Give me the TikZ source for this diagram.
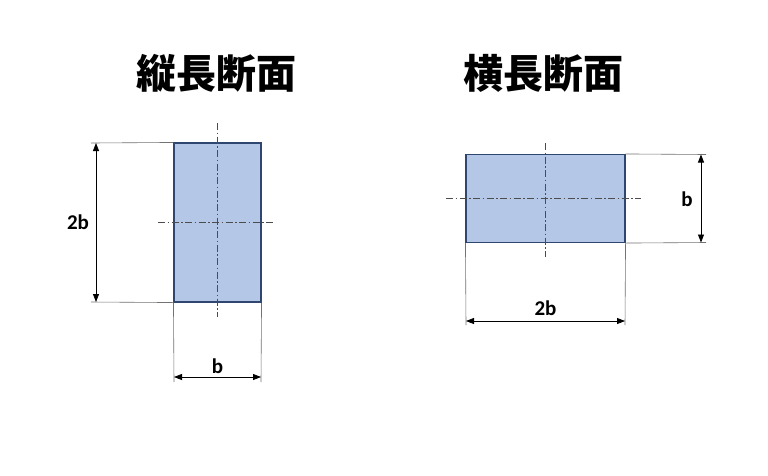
\documentclass[tikz,border=0pt]{standalone}
\usepackage{fontspec}
\setmainfont{Carlito}[BoldFont={Carlito Bold}]
\newfontfamily\jpfont{Noto Sans CJK JP}
\usetikzlibrary{arrows.meta}
\definecolor{secfill}{HTML}{B4C7E7}
\definecolor{secline}{HTML}{2F4670}
\tikzset{
  section/.style={draw=secline, line width=1.1pt, fill=secfill, inner sep=0pt},
  centerline/.style={draw=black!70, line width=0.6pt, dash pattern=on 7pt off 2.5pt on 1.5pt off 2.5pt},
  extline/.style={draw=black!55, line width=0.6pt},
  dimline/.style={draw=black, line width=0.8pt, {Triangle[length=8pt,width=6pt]}-{Triangle[length=8pt,width=6pt]}},
  dimlabel/.style={font=\bfseries\fontsize{21}{21}\selectfont},
  title/.style={font=\jpfont\bfseries\fontsize{40}{40}\selectfont}
}
\begin{document}
\begin{tikzpicture}[x=1pt,y=-1pt]
\useasboundingbox[fill=white] (0,0) rectangle (768,475);
% titles
\node[title] (tleft) at (216,73) {縦長断面};
\node[title] (tright) at (543,73) {横長断面};
% tall section
\node[section, minimum width=87pt, minimum height=159pt] (tall) at (217.5,222.5) {};
\draw[centerline] (217.5,123) -- (217.5,317); % vertical axis
\draw[centerline] (158,222.5) -- (273,222.5); % horizontal axis
\coordinate (th1) at (91,143);
\coordinate (th2) at (91,302);
\draw[extline] (tall.north west) -- (th1);
\draw[extline] (tall.south west) -- (th2);
\draw[dimline] (96,143) -- (96,302);
\node[dimlabel] (tallh) at (78,222) {2b};
\coordinate (tw1) at (174,382);
\coordinate (tw2) at (261,382);
\draw[extline] (tall.south west) -- (tw1);
\draw[extline] (tall.south east) -- (tw2);
\draw[dimline] (174,377) -- (261,377);
\node[dimlabel] (tallw) at (217.5,366) {b};
% wide section
\node[section, minimum width=159pt, minimum height=88pt] (wide) at (545.5,198.5) {};
\draw[centerline] (545.5,143) -- (545.5,257); % vertical axis
\draw[centerline] (446,198.5) -- (641,198.5); % horizontal axis
\coordinate (wh1) at (706,154.5);
\coordinate (wh2) at (706,242.5);
\draw[extline] (wide.north east) -- (wh1);
\draw[extline] (wide.south east) -- (wh2);
\draw[dimline] (701,154.5) -- (701,242.5);
\node[dimlabel] (wideh) at (687,199) {b};
\coordinate (ww1) at (466,325);
\coordinate (ww2) at (625,325);
\draw[extline] (wide.south west) -- (ww1);
\draw[extline] (wide.south east) -- (ww2);
\draw[dimline] (466,321) -- (625,321);
\node[dimlabel] (widew) at (545.5,308) {2b};
\end{tikzpicture}
\end{document}
